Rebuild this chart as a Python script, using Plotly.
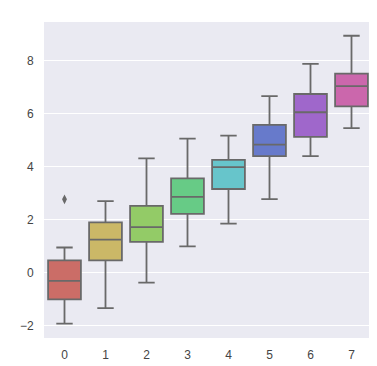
import colorsys
import plotly.graph_objects as go

categories = ["0", "1", "2", "3", "4", "5", "6", "7"]
upper_whisker = [0.94, 2.69, 4.31, 5.05, 5.17, 6.66, 7.88, 8.94]
q3_vals = [0.45, 1.89, 2.51, 3.55, 4.25, 5.57, 6.74, 7.51]
medians = [-0.32, 1.24, 1.71, 2.85, 3.98, 4.83, 6.05, 7.04]
q1_vals = [-1.02, 0.45, 1.15, 2.21, 3.15, 4.39, 5.12, 6.27]
lower_whisker = [-1.94, -1.35, -0.39, 0.98, 1.84, 2.77, 4.39, 5.45]
outlier_cat = ["0"]
outlier_val = [2.76]
y_ticks = [-2, 0, 2, 4, 6, 8]

# seaborn "hls" palette (l=.6, s=.65) desaturated to 0.75 as boxplot does
colors = []
for i in range(len(categories)):
    h = (0.01 + i / len(categories)) % 1
    r, g, b = colorsys.hls_to_rgb(h, 0.6, 0.65 * 0.75)
    colors.append("rgb(%d,%d,%d)" % (round(r * 255), round(g * 255), round(b * 255)))

line_gray = "rgb(105,105,105)"

fig = go.Figure()
for i, c in enumerate(categories):
    fig.add_trace(go.Box(
        x=[c], q1=[q1_vals[i]], median=[medians[i]], q3=[q3_vals[i]],
        lowerfence=[lower_whisker[i]], upperfence=[upper_whisker[i]],
        fillcolor=colors[i], line=dict(color=line_gray, width=1.8),
        width=0.8, whiskerwidth=0.5, boxpoints=False, showlegend=False,
        hoverinfo="skip",
    ))

fig.add_trace(go.Scatter(
    x=outlier_cat, y=outlier_val, mode="markers",
    marker=dict(symbol="diamond-tall", size=7, color=line_gray,
                line=dict(width=0)),
    showlegend=False,
))

font = dict(family="Liberation Sans, Arial, DejaVu Sans", size=12, color="#444444")
fig.update_layout(
    width=377, height=366,
    margin=dict(l=30, r=13, t=14, b=27),
    paper_bgcolor="white", plot_bgcolor="#EAEAF2",
    font=font,
    xaxis=dict(type="category", range=[-0.5, 7.5], showgrid=False,
               zeroline=False, showline=False, ticks="outside", ticklen=6,
               tickcolor="rgba(0,0,0,0)", tickfont=font),
    yaxis=dict(range=[-2.48, 9.46], tickvals=y_ticks, showgrid=True,
               gridcolor="white", gridwidth=1.2, zeroline=False, showline=False,
               ticks="outside", ticklen=7, tickcolor="rgba(0,0,0,0)", tickfont=font),
)

fig.write_html("out.html")
